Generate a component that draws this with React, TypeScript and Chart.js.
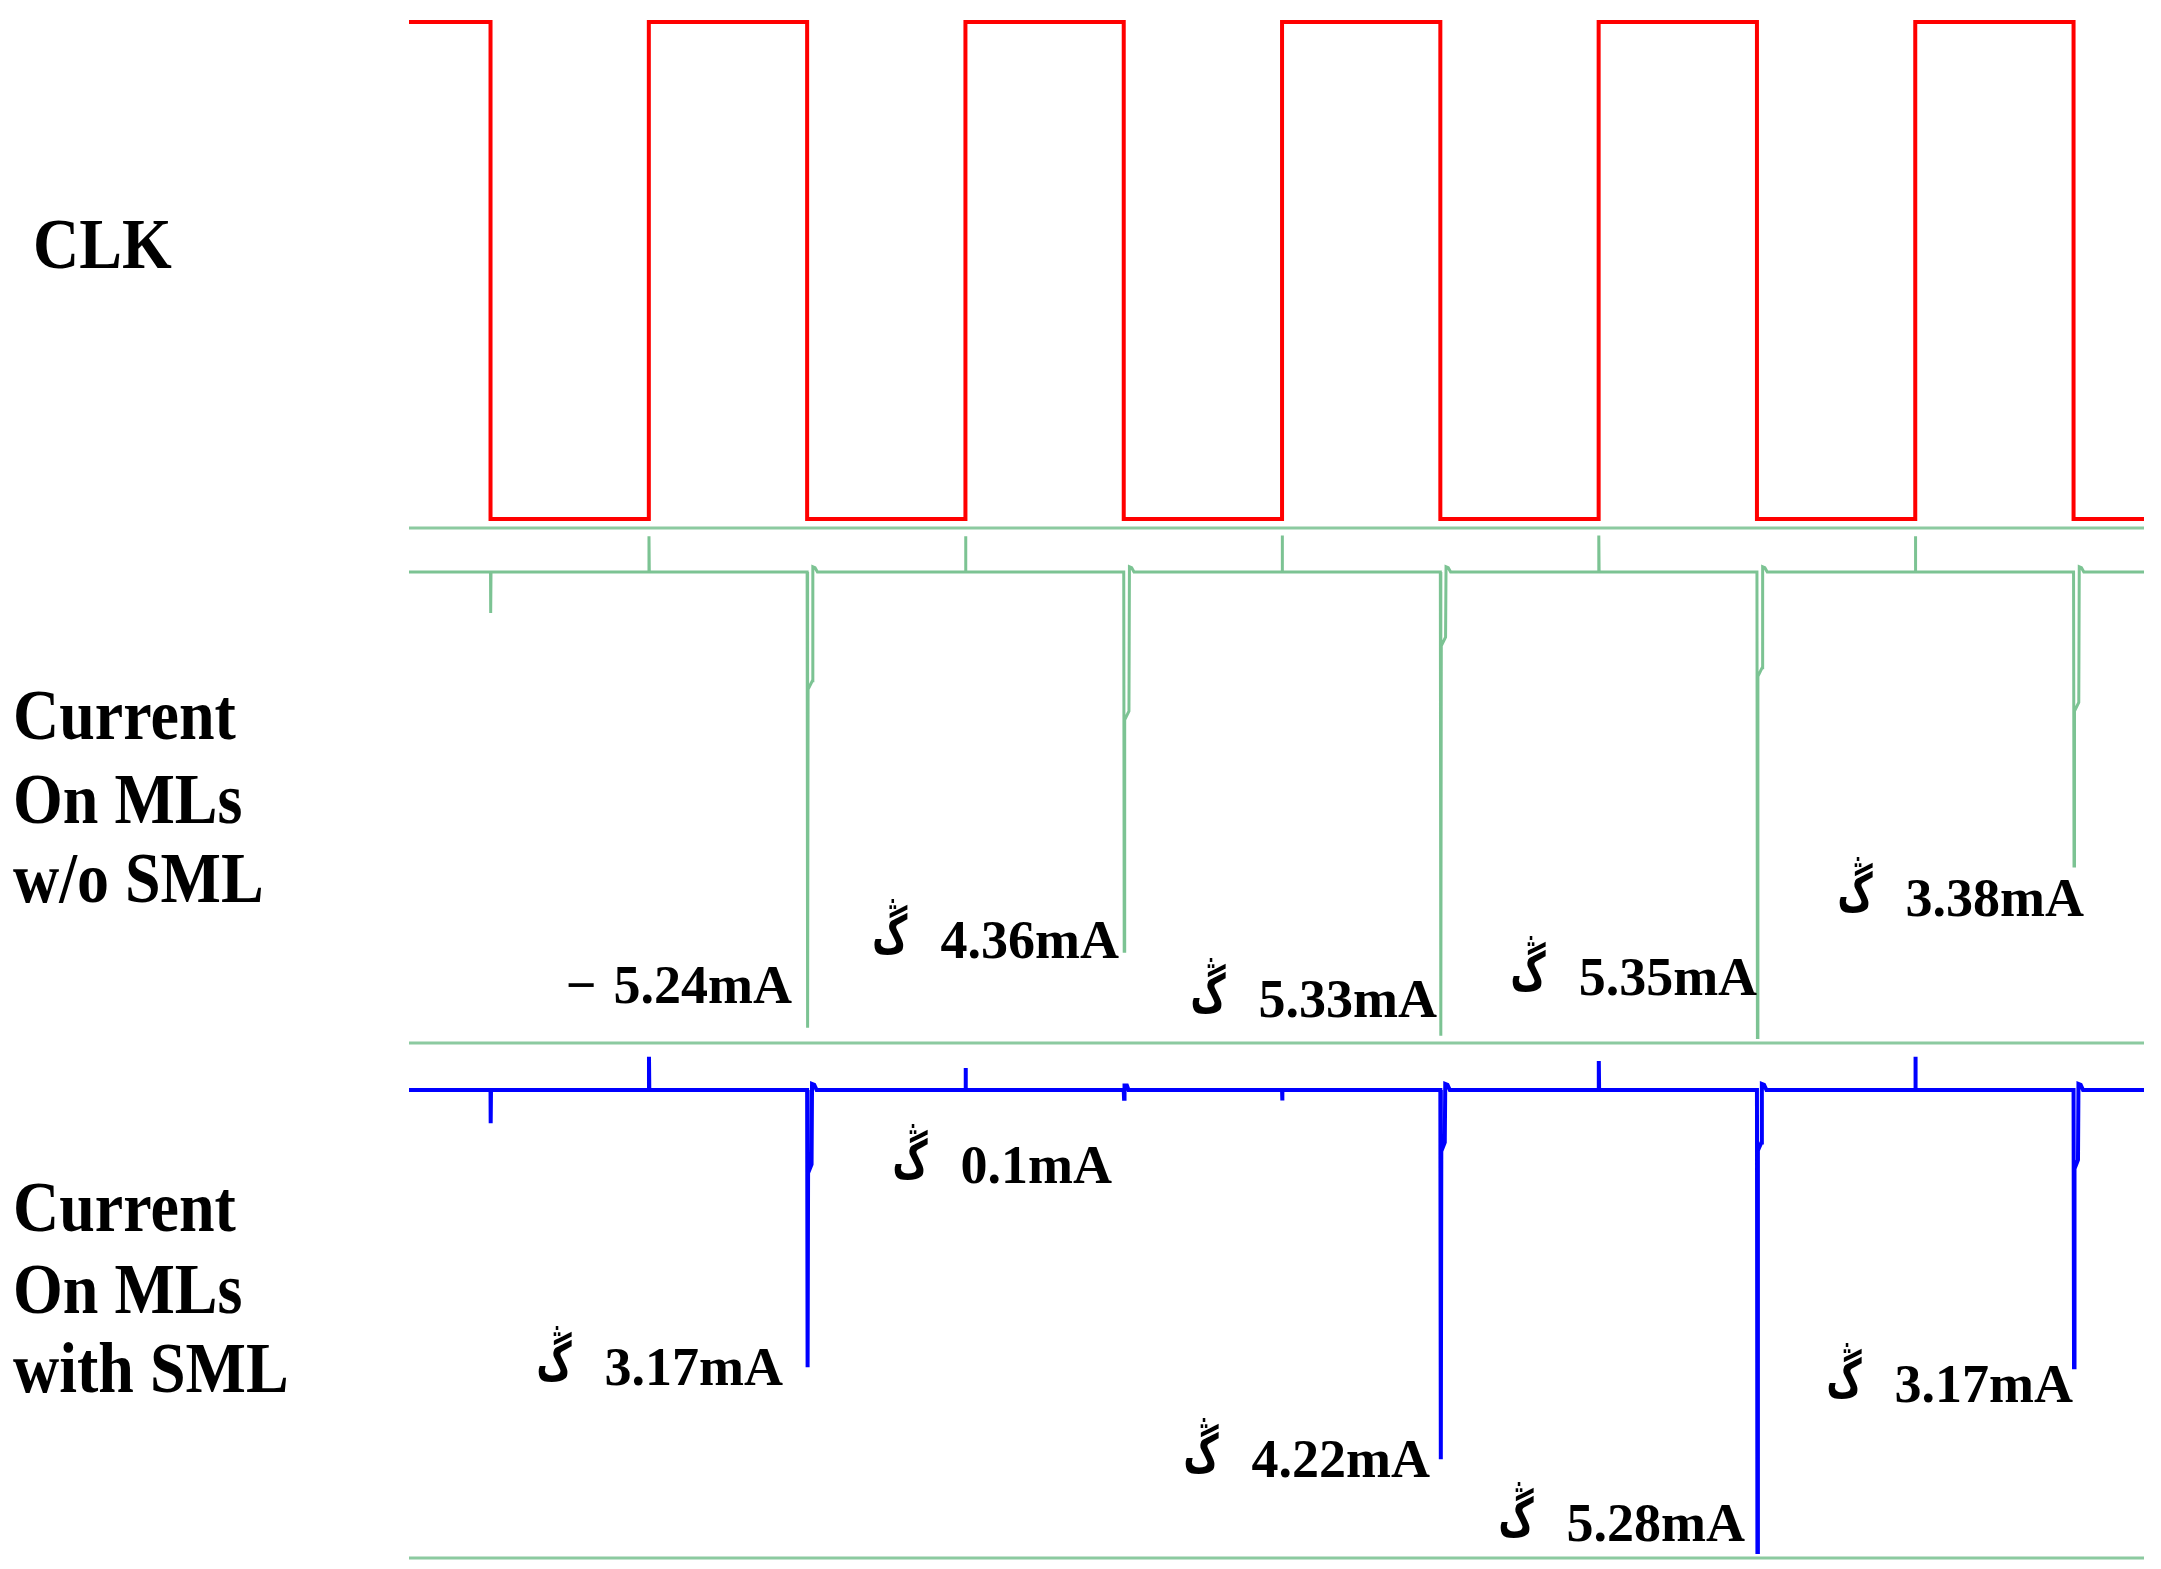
import React, { useEffect, useRef } from "react";
import { Chart, registerables } from "chart.js";
Chart.register(...registerables);

// ---- time axis (units: half clock periods) ----
const X_MIN = 0;
const X_MAX = 10.96;

// ---- CLK waveform ----
const clkTime = [0, 0.515, 0.515, 1.515, 1.515, 2.515, 2.515, 3.515, 3.515, 4.515, 4.515, 5.515, 5.515, 6.515, 6.515, 7.515, 7.515, 8.515, 8.515, 9.515, 9.515, 10.515, 10.515, 10.96];
const clkLevel = [1, 1, 0, 0, 1, 1, 0, 0, 1, 1, 0, 0, 1, 1, 0, 0, 1, 1, 0, 0, 1, 1, 0, 0];

// ---- Current on MLs without SML (mA) ----
const noSmlTime = [0,
  0.515, 0.516, 0.518,
  1.515, 1.516, 1.518,
  2.515, 2.518, 2.521, 2.548, 2.551, 2.565, 2.580,
  3.515, 3.516, 3.518,
  4.515, 4.518, 4.521, 4.548, 4.551, 4.565, 4.580,
  5.515, 5.516, 5.518,
  6.515, 6.518, 6.521, 6.548, 6.551, 6.565, 6.580,
  7.515, 7.516, 7.518,
  8.515, 8.518, 8.521, 8.548, 8.551, 8.565, 8.580,
  9.515, 9.516, 9.518,
  10.515, 10.518, 10.521, 10.548, 10.551, 10.565, 10.580,
  10.96];
const noSmlCurrent = [0,
  0, -0.47, 0,
  0, 0.41, 0,
  0, -5.24, -1.35, -1.25, 0.06, 0.05, 0,
  0, 0.41, 0,
  0, -4.36, -1.7, -1.6, 0.06, 0.05, 0,
  0, 0.42, 0,
  0, -5.33, -0.85, -0.75, 0.06, 0.05, 0,
  0, 0.42, 0,
  0, -5.35, -1.2, -1.1, 0.06, 0.05, 0,
  0, 0.41, 0,
  0, -3.38, -1.6, -1.5, 0.06, 0.05, 0,
  0];

// ---- Current on MLs with SML (mA) ----
const smlTime = [0,
  0.515, 0.516, 0.518,
  1.515, 1.516, 1.518,
  2.515, 2.518, 2.521, 2.543, 2.546, 2.560, 2.575,
  3.515, 3.516, 3.518,
  4.515, 4.517, 4.520, 4.535, 4.545,
  5.515, 5.516, 5.518,
  6.515, 6.518, 6.521, 6.543, 6.546, 6.560, 6.575,
  7.515, 7.516, 7.518,
  8.515, 8.518, 8.521, 8.543, 8.546, 8.560, 8.575,
  9.515, 9.516, 9.518,
  10.515, 10.518, 10.521, 10.543, 10.546, 10.560, 10.575,
  10.96];
const smlCurrent = [0,
  0, -0.38, 0,
  0, 0.38, 0,
  0, -3.17, -0.95, -0.85, 0.07, 0.06, 0,
  0, 0.25, 0,
  0, -0.1, 0.05, 0.05, 0,
  0, -0.12, 0,
  0, -4.22, -0.7, -0.6, 0.07, 0.06, 0,
  0, 0.33, 0,
  0, -5.28, -0.69, -0.6, 0.07, 0.06, 0,
  0, 0.38, 0,
  0, -3.17, -0.9, -0.8, 0.07, 0.06, 0,
  0];

// ---- annotations ----
const noSmlLabelText = ["5.24mA", "4.36mA", "5.33mA", "5.35mA", "3.38mA"];
const noSmlLabelPrefix = ["\u2212", "\u06B4", "\u06B4", "\u06B4", "\u06B4"];
const noSmlLabelX = [2.419, 4.485, 6.494, 8.516, 10.581];
const noSmlLabelY = [-4.954, -4.437, -5.115, -4.862, -3.954];

const smlLabelText = ["3.17mA", "0.1mA", "4.22mA", "5.28mA", "3.17mA"];
const smlLabelPrefix = ["\u06B4", "\u06B4", "\u06B4", "\u06B4", "\u06B4"];
const smlLabelX = [2.363, 4.441, 6.450, 8.440, 10.512];
const smlLabelY = [-3.371, -1.063, -4.423, -5.154, -3.566];

const RED = "#ff0000";
const GREEN = "#7cc393";
const SEP = "#8ccaa0";
const BLUE = "#0000ff";

const toPoints = (xs: number[], ys: number[]) => xs.map((x, i) => ({ x, y: ys[i] }));

const separatorPlugin = {
  id: "separator",
  beforeDatasetsDraw(chart: any) {
    const { ctx, chartArea } = chart;
    ctx.save();
    ctx.strokeStyle = SEP;
    ctx.lineWidth = 3;
    ctx.beginPath();
    ctx.moveTo(chartArea.left, chartArea.bottom);
    ctx.lineTo(chartArea.right, chartArea.bottom);
    ctx.stroke();
    ctx.restore();
  },
};

const makeLabelPlugin = (texts: string[], prefixes: string[], xs: number[], ys: number[]) => ({
  id: "valueLabels",
  afterDatasetsDraw(chart: any) {
    const { ctx, scales } = chart;
    ctx.save();
    ctx.fillStyle = "#000";
    ctx.textBaseline = "alphabetic";
    ctx.textAlign = "right";
    texts.forEach((t, i) => {
      const px = scales.x.getPixelForValue(xs[i]);
      const py = scales.y.getPixelForValue(ys[i]);
      ctx.font = 'bold 54px "Liberation Serif"';
      ctx.fillText(t, px, py);
      const w = ctx.measureText(t).width;
      const p = prefixes[i];
      if (p === "\u2212") {
        ctx.font = 'bold 54px "Liberation Serif"';
        ctx.fillText(p, px - w - 17, py);
      } else {
        ctx.save();
        ctx.translate(px - w - 33, py - 5);
        ctx.scale(0.78, 1.2);
        ctx.font = 'bold 44px "DejaVu Sans"';
        ctx.fillText(p, 0, 0);
        ctx.restore();
      }
    });
    ctx.restore();
  },
});

const baseOptions = (padTop: number, padBottom: number, yMin: number, yMax: number) => ({
  responsive: false,
  maintainAspectRatio: false,
  animation: false as const,
  events: [] as any[],
  layout: { padding: { left: 409, right: 17, top: padTop, bottom: padBottom } },
  plugins: { legend: { display: false }, tooltip: { enabled: false }, title: { display: false } },
  scales: {
    x: { type: "linear" as const, min: X_MIN, max: X_MAX, display: false },
    y: { type: "linear" as const, min: yMin, max: yMax, display: false },
  },
});

const dataset = (pts: any[], color: string, width: number) => ({
  data: pts,
  borderColor: color,
  borderWidth: width,
  pointRadius: 0,
  tension: 0,
  fill: false,
  borderJoinStyle: "miter" as const,
});

const titleLine = (text: string, left: number, baseline: number) => (
  <div
    key={text + baseline}
    style={{
      position: "absolute",
      left,
      top: baseline - 53.6,
      fontFamily: '"Liberation Serif", serif',
      fontWeight: "bold",
      fontSize: 64,
      lineHeight: "64px",
      whiteSpace: "nowrap",
      color: "#000",
      transformOrigin: "0 53.6px",
      transform: "scaleY(1.12)",
    }}
  >
    {text}
  </div>
);

export default function App() {
  const clkRef = useRef<HTMLCanvasElement>(null);
  const noSmlRef = useRef<HTMLCanvasElement>(null);
  const smlRef = useRef<HTMLCanvasElement>(null);

  useEffect(() => {
    const charts: Chart[] = [];
    if (clkRef.current) {
      charts.push(
        new Chart(clkRef.current, {
          type: "line",
          data: { datasets: [dataset(toPoints(clkTime, clkLevel), RED, 4)] },
          options: baseOptions(0, 12, -0.0181, 1.0443) as any,
          plugins: [separatorPlugin],
        })
      );
    }
    if (noSmlRef.current) {
      charts.push(
        new Chart(noSmlRef.current, {
          type: "line",
          data: { datasets: [dataset(toPoints(noSmlTime, noSmlCurrent), GREEN, 3)] },
          options: baseOptions(8, 12, -5.414, 0.506) as any,
          plugins: [separatorPlugin, makeLabelPlugin(noSmlLabelText, noSmlLabelPrefix, noSmlLabelX, noSmlLabelY)],
        })
      );
    }
    if (smlRef.current) {
      charts.push(
        new Chart(smlRef.current, {
          type: "line",
          data: { datasets: [dataset(toPoints(smlTime, smlCurrent), BLUE, 4)] },
          options: baseOptions(8, 11, -5.349, 0.537) as any,
          plugins: [separatorPlugin, makeLabelPlugin(smlLabelText, smlLabelPrefix, smlLabelX, smlLabelY)],
        })
      );
    }
    return () => charts.forEach((c) => c.destroy());
  }, []);

  return (
    <div style={{ position: "absolute", left: 0, top: 0, width: 2161, height: 1569, background: "#fff", overflow: "hidden" }}>
      {titleLine("CLK", 33, 269)}
      {titleLine("Current", 13, 740)}
      {titleLine("On MLs", 13, 824)}
      {titleLine("w/o SML", 13, 903)}
      {titleLine("Current", 13, 1232)}
      {titleLine("On MLs", 13, 1314)}
      {titleLine("with SML", 13, 1393)}
      <canvas ref={clkRef} width={2161} height={540} style={{ position: "absolute", left: 0, top: 0, width: 2161, height: 540 }} />
      <canvas ref={noSmlRef} width={2161} height={535} style={{ position: "absolute", left: 0, top: 520, width: 2161, height: 535 }} />
      <canvas ref={smlRef} width={2161} height={534} style={{ position: "absolute", left: 0, top: 1035, width: 2161, height: 534 }} />
    </div>
  );
}
